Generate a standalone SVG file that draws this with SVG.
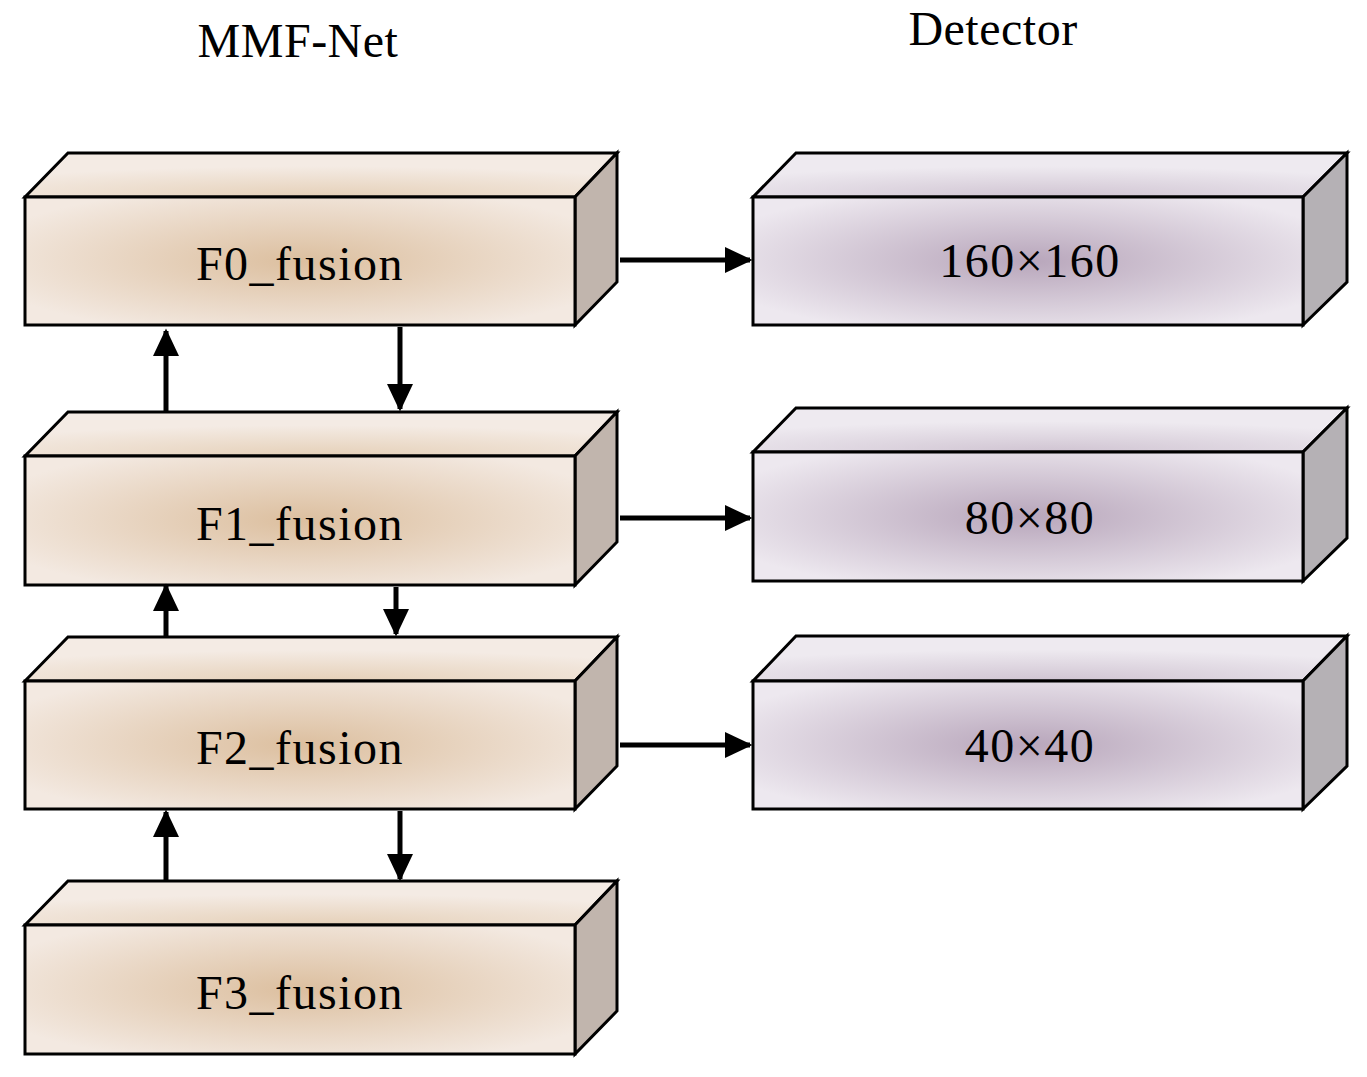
<svg xmlns="http://www.w3.org/2000/svg" width="1367" height="1077" viewBox="0 0 1367 1077">
<defs>
<radialGradient id="gf" cx="0.5" cy="0.5" r="0.6"><stop offset="0" stop-color="#dcbf9f"/><stop offset="1" stop-color="#f3e9e1"/></radialGradient>
<radialGradient id="gft" cx="0.5" cy="1" r="0.7"><stop offset="0" stop-color="#e5d0b8"/><stop offset="1" stop-color="#f4ebe4"/></radialGradient>
<radialGradient id="gd" cx="0.5" cy="0.5" r="0.6"><stop offset="0" stop-color="#b8a6bb"/><stop offset="1" stop-color="#ede8ef"/></radialGradient>
<radialGradient id="gdt" cx="0.5" cy="1" r="0.7"><stop offset="0" stop-color="#d0c4d2"/><stop offset="1" stop-color="#eeeaf0"/></radialGradient>
<marker id="ah" markerWidth="6" markerHeight="6" refX="5" refY="3" orient="auto" markerUnits="strokeWidth"><path d="M0,0.4 L5.5,3 L0,5.6 z" fill="#000"/></marker>
</defs>
<style>
.s{stroke:#000;stroke-width:3;stroke-linejoin:miter}
.side{fill:#c1b5ad}
.dside{fill:#b5b1b5}
text{font-family:"Liberation Serif","Times New Roman",serif;text-anchor:middle;fill:#000}
.l{font-size:48px;letter-spacing:1.5px}
.t{font-size:48px;letter-spacing:0.5px}
.c{stroke:#000;stroke-width:5;fill:none;marker-end:url(#ah)}
</style>
<rect width="1367" height="1077" fill="#fff"/>
<text class="t" x="298" y="57">MMF-Net</text>
<text class="t" x="993" y="45">Detector</text>
<g id="F0"><polygon class="s" fill="url(#gft)" points="25,197 68,153 617,153 575,197"/><polygon class="s side" points="575,197 617,153 617,282 575,325"/><rect class="s" fill="url(#gf)" x="25" y="197" width="550" height="128"/><text class="l" x="300" y="280">F0_fusion</text></g>
<g id="F1"><polygon class="s" fill="url(#gft)" points="25,456 68,412 617,412 575,456"/><polygon class="s side" points="575,456 617,412 617,542 575,585"/><rect class="s" fill="url(#gf)" x="25" y="456" width="550" height="129"/><text class="l" x="300" y="540">F1_fusion</text></g>
<g id="F2"><polygon class="s" fill="url(#gft)" points="25,681 68,637 617,637 575,681"/><polygon class="s side" points="575,681 617,637 617,766 575,809"/><rect class="s" fill="url(#gf)" x="25" y="681" width="550" height="128"/><text class="l" x="300" y="764">F2_fusion</text></g>
<g id="F3"><polygon class="s" fill="url(#gft)" points="25,925 68,881 617,881 575,925"/><polygon class="s side" points="575,925 617,881 617,1011 575,1054"/><rect class="s" fill="url(#gf)" x="25" y="925" width="550" height="129"/><text class="l" x="300" y="1009">F3_fusion</text></g>
<g id="D0"><polygon class="s" fill="url(#gdt)" points="753,197 796,153 1347,153 1303,197"/><polygon class="s dside" points="1303,197 1347,153 1347,282 1303,325"/><rect class="s" fill="url(#gd)" x="753" y="197" width="550" height="128"/><text class="l" x="1030" y="277">160×160</text></g>
<g id="D1"><polygon class="s" fill="url(#gdt)" points="753,452 796,408 1347,408 1303,452"/><polygon class="s dside" points="1303,452 1347,408 1347,538 1303,581"/><rect class="s" fill="url(#gd)" x="753" y="452" width="550" height="129"/><text class="l" x="1030" y="534">80×80</text></g>
<g id="D2"><polygon class="s" fill="url(#gdt)" points="753,681 796,636 1347,636 1303,681"/><polygon class="s dside" points="1303,681 1347,636 1347,766 1303,809"/><rect class="s" fill="url(#gd)" x="753" y="681" width="550" height="128"/><text class="l" x="1030" y="762">40×40</text></g>
<g id="connectors">
<line class="c" x1="620" y1="260" x2="750" y2="260"/>
<line class="c" x1="620" y1="518" x2="750" y2="518"/>
<line class="c" x1="620" y1="745" x2="750" y2="745"/>
<line class="c" x1="166" y1="411" x2="166" y2="331"/>
<line class="c" x1="166" y1="636" x2="166" y2="586"/>
<line class="c" x1="166" y1="880" x2="166" y2="812"/>
<line class="c" x1="400" y1="327" x2="400" y2="409"/>
<line class="c" x1="396" y1="587" x2="396" y2="634"/>
<line class="c" x1="400" y1="811" x2="400" y2="879"/>
</g>
</svg>
